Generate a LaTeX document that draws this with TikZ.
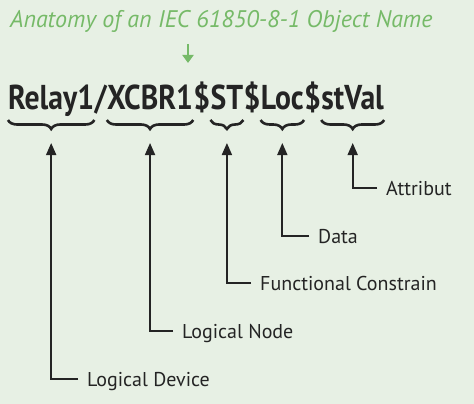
\documentclass[tikz,border=0pt]{standalone}
\usepackage{fontspec}
\setmainfont{PT Sans}
\newfontfamily\namefont{PT Sans}[FakeStretch=0.86]
\usetikzlibrary{arrows.meta,positioning,calc,decorations.pathreplacing}
\definecolor{bggreen}{RGB}{231,240,228}
\definecolor{titlegreen}{RGB}{118,186,104}
\definecolor{inkgray}{RGB}{36,36,36}

\begin{document}
\begin{tikzpicture}[x=1pt,y=1pt,
    part/.style={inner sep=0pt, anchor=base west, text=inkgray,
      font=\namefont\bfseries\fontsize{34.5}{34.5}\selectfont},
    lbl/.style={anchor=west, inner xsep=9pt, inner ysep=0pt, text=inkgray,
      text height=15pt, text depth=0pt, font=\fontsize{20}{20}\selectfont},
    brace/.style={decorate, decoration={brace, mirror, amplitude=9pt},
      line width=2.6pt, inkgray},
    arr/.style={-{Triangle[length=12pt,width=10pt]}, line width=1.7pt, inkgray},
    garr/.style={-{Triangle[length=8pt,width=11pt]}, line width=2.4pt, titlegreen}]
  \useasboundingbox (0,0) rectangle (474,-404);
  \fill[bggreen] (0,0) rectangle (474,-404);

  % title
  \node[anchor=west, inner sep=0pt, text=titlegreen,
    font=\itshape\fontsize{24}{24}\selectfont] (title) at (10,-21)
    {Anatomy of an IEC 61850-8-1 Object Name};
  \coordinate (gtop) at (188,-44);
  \coordinate (gbot) at (188,-63);
  \draw[garr] (gtop) -- (gbot);

  % object name
  \node[part] (p1) at (8,-110) {Relay1};
  \node[part] (s1) at (p1.base east) {/};
  \node[part] (p2) at (s1.base east) {XCBR1};
  \node[part] (s2) at (p2.base east) {\$};
  \node[part] (p3) at (s2.base east) {ST};
  \node[part] (s3) at (p3.base east) {\$};
  \node[part] (p4) at (s3.base east) {Loc};
  \node[part] (s4) at (p4.base east) {\$};
  \node[part] (p5) at (s4.base east) {stVal};

  % braces
  \foreach \p in {p1,p2,p3,p4,p5} {
    \draw[brace] ($(\p.base west)+(0,-10)$) -- ($(\p.base east)+(0,-10)$);
    \coordinate (t\p) at ($(\p.base)+(0,-33)$);
  }

  % labels
  \node[lbl] (attr) at (377,-188) {Attribut};
  \node[lbl] (data) at (309,-236) {Data};
  \node[lbl] (fc) at (251,-283) {Functional Constrain};
  \node[lbl] (ln) at (173,-331) {Logical Node};
  \node[lbl] (ld) at (78,-379) {Logical Device};

  \draw[arr] (attr.west) -| (tp5);
  \draw[arr] (data.west) -| (tp4);
  \draw[arr] (fc.west) -| (tp3);
  \draw[arr] (ln.west) -| (tp2);
  \draw[arr] (ld.west) -| (tp1);
\end{tikzpicture}
\end{document}
